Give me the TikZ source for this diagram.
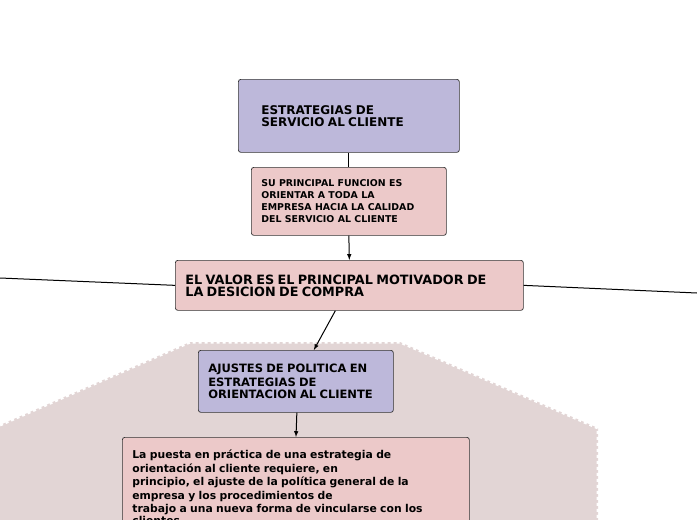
\documentclass[tikz,border=0pt]{standalone}
\usepackage{fontspec}
\setmainfont{DejaVu Sans}
\definecolor{cpurp}{RGB}{189,184,218}
\definecolor{cpink}{RGB}{236,201,201}
\definecolor{cbg}{RGB}{226,213,213}
\begin{document}
\begin{tikzpicture}[x=1pt,y=-1pt,
  box/.style={draw=black!80,rounded corners=2.5,line width=0.7,align=left,anchor=north west,inner ysep=0,font=\bfseries},
  purp/.style={box,fill=cpurp},
  pink/.style={box,fill=cpink},
  arr/.style={-latex,line width=1}]
\useasboundingbox (0,0) rectangle (697,520);
\clip (0,0) rectangle (697,520);
\fill[cbg] (0,425) -- (190,342) -- (400,342) -- (598,428) -- (598,530) -- (0,530) -- cycle;
\draw[white,line width=3,dash pattern=on 3pt off 3pt] (0,425) -- (190,342) -- (400,342) -- (598,428) -- (598,530);
\node[purp,minimum width=221,minimum height=73,inner xsep=23,text width=175] (a) at (238,79) {\fontsize{12}{14}\selectfont ESTRATEGIAS DE\\SERVICIO AL CLIENTE};
\node[pink,minimum width=195,minimum height=68,inner xsep=10,text width=175] (b) at (251,167) {\fontsize{9.4}{12}\selectfont SU PRINCIPAL FUNCION ES\\ORIENTAR A TODA LA\\EMPRESA HACIA LA CALIDAD\\DEL SERVICIO AL CLIENTE};
\node[pink,minimum width=348,minimum height=50,inner xsep=10,text width=328] (c) at (175,260) {\fontsize{12.8}{15}\selectfont EL VALOR ES EL PRINCIPAL MOTIVADOR DE\\LA DESICION DE COMPRA};
\node[purp,minimum width=195,minimum height=62,inner xsep=10,text width=175] (d) at (198,350) {\fontsize{11.5}{14}\selectfont AJUSTES DE POLITICA EN\\ESTRATEGIAS DE\\ORIENTACION AL CLIENTE};
\node[pink,minimum width=347,minimum height=100,inner xsep=10,text width=327,anchor=north west] (e) at (122,437) {\fontsize{10.8}{13.5}\selectfont\rule{0pt}{9pt}La puesta en práctica de una estrategia de\\orientación al cliente requiere, en\\principio, el ajuste de la política general de la\\empresa y los procedimientos de\\trabajo a una nueva forma de vincularse con los\\clientes.};
\coordinate (l) at (0,278);
\coordinate (r) at (697,293);
\draw[line width=1] (a.south) -- (b.north);
\draw[arr] (b.south) -- (c.north);
\draw[arr] ([xshift=-14]c.south) -- ([xshift=18]d.north);
\draw[arr] ([xshift=1]d.south) -- ([xshift=174]e.north west);
\draw[line width=1] (l) -- (c.west);
\draw[line width=1] (c.east) -- (r);
\end{tikzpicture}
\end{document}
